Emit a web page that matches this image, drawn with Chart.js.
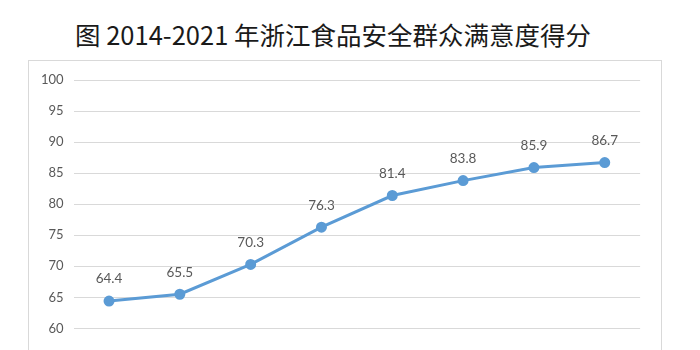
<!DOCTYPE html>
<html lang="zh">
  <head>
    <meta charset="UTF-8" />
    <title>浙江食品安全群众满意度得分</title>
    <script src="https://cdn.jsdelivr.net/npm/chart.js"></script>
    <style>
      html, body { margin: 0; padding: 0; background: #fff; overflow: hidden; width: 700px; height: 350px; }
      #title {
        position: absolute; left: 0; top: 17px; width: 666px; text-align: center;
        font-family: "Noto Sans CJK SC", sans-serif; font-size: 25.5px; color: #1a1a1a; line-height: 34px;
      }
      #box {
        position: absolute; left: 28px; top: 60px; width: 632px; height: 380px;
        border: 1px solid #d9d9d9; box-sizing: content-box;
      }
      #box canvas { display: block; }
    </style>
  </head>
  <body>
    <div id="title">图 2014-2021 年浙江食品安全群众满意度得分</div>
    <div id="box"><canvas id="chart" width="632" height="371"></canvas></div>

    <script>
      // data
      const years = ["2014", "2015", "2016", "2017", "2018", "2019", "2020", "2021"];
      const scores = [64.4, 65.5, 70.3, 76.3, 81.4, 83.8, 85.9, 86.7];
      const yTicks = [60, 65, 70, 75, 80, 85, 90, 95, 100];

      // value labels above each point
      const valueLabels = {
        id: "valueLabels",
        afterDatasetsDraw(chart) {
          const ctx = chart.ctx;
          const meta = chart.getDatasetMeta(0);
          ctx.save();
          ctx.font = "13.5px Lato";
          ctx.fillStyle = "#595959";
          ctx.textAlign = "center";
          ctx.textBaseline = "middle";
          meta.data.forEach((pt, i) => {
            ctx.fillText(scores[i].toFixed(1), pt.x, pt.y - 22);
          });
          ctx.restore();
        },
      };

      new Chart(document.getElementById("chart"), {
        type: "line",
        data: {
          labels: years,
          datasets: [
            {
              data: scores,
              borderColor: "#5B9BD5",
              backgroundColor: "#5B9BD5",
              borderWidth: 3,
              pointRadius: 4,
              pointHoverRadius: 4,
              tension: 0,
              fill: false,
            },
          ],
        },
        options: {
          responsive: false,
          animation: false,
          layout: { padding: { left: 2, right: 19, top: 19, bottom: 0 } },
          plugins: { legend: { display: false }, tooltip: { enabled: false } },
          scales: {
            x: {
              offset: true,
              grid: { display: false },
              border: { display: false },
              ticks: { padding: 40, color: "#595959", font: { family: "Lato", size: 13 } },
            },
            y: {
              min: 60,
              max: 100,
              afterBuildTicks: (axis) => { axis.ticks = yTicks.map((v) => ({ value: v })); },
              grid: { color: "#d9d9d9", lineWidth: 1, drawTicks: false },
              border: { display: false },
              ticks: { padding: 10, color: "#595959", font: { family: "Lato", size: 13 } },
            },
          },
        },
        plugins: [valueLabels],
      });
    </script>
  </body>
</html>
